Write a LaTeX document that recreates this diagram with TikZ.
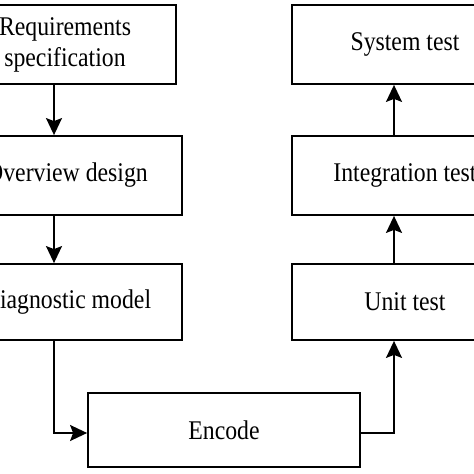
\documentclass[tikz,border=0pt]{standalone}
\usepackage{fontspec}
\setmainfont{Liberation Serif}[FakeStretch=0.88]
\usetikzlibrary{arrows.meta}
\begin{document}
\begin{tikzpicture}[x=1pt,y=1pt,
  box/.style={draw=black,line width=1.8pt,fill=white,inner sep=0pt,align=center,
    font=\fontsize{27}{31}\selectfont},
  conn/.style={line width=1.8pt,-{Stealth[length=17pt,width=16pt,inset=3pt]}}]
\useasboundingbox (0,0) rectangle (474,474);
\clip (0,0) rectangle (474,474);
\node[box,minimum width=222pt,minimum height=79pt] (req) at (65,429.5) {Requirements\\specification};
\node[box,minimum width=230pt,minimum height=79pt] (ovr) at (67,298.5) {Overview design};
\node[box,minimum width=230pt,minimum height=76pt] (diag) at (67,172) {Diagnostic model};
\node[box,minimum width=272pt,minimum height=74pt] (enc) at (224,44) {Encode};
\node[box,minimum width=226pt,minimum height=79pt] (sys) at (405,429.5) {System test};
\node[box,minimum width=226pt,minimum height=79pt] (integ) at (405,298.5) {Integration test};
\node[box,minimum width=226pt,minimum height=76pt] (unit) at (405,172) {Unit test};
\coordinate (lx) at (54,0);
\coordinate (rx) at (394,0);
\draw[conn] (req.south -| lx) -- (ovr.north -| lx);
\draw[conn] (ovr.south -| lx) -- (diag.north -| lx);
\draw[conn] (diag.south -| lx) |- ([yshift=-3pt]enc.west);
\draw[conn] ([yshift=-3pt]enc.east) -| (unit.south -| rx);
\draw[conn] (unit.north -| rx) -- (integ.south -| rx);
\draw[conn] (integ.north -| rx) -- (sys.south -| rx);
\end{tikzpicture}
\end{document}
